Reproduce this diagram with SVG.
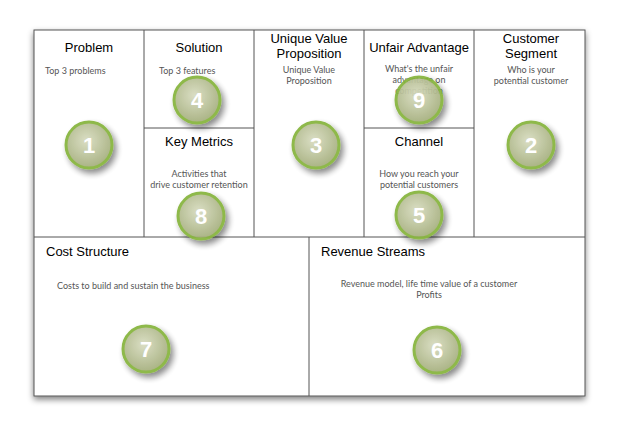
<svg xmlns="http://www.w3.org/2000/svg" width="618" height="435" viewBox="0 0 618 435">
<defs>
<radialGradient id="g" cx="0.45" cy="0.4" r="0.6"><stop offset="0" stop-color="#d8dcc0"/><stop offset="1" stop-color="#a4ae7c"/></radialGradient>
<filter id="sh" x="-30%" y="-30%" width="170%" height="170%"><feGaussianBlur in="SourceAlpha" stdDeviation="3"/><feOffset dx="3" dy="4"/><feComponentTransfer><feFuncA type="linear" slope="0.5"/></feComponentTransfer><feMerge><feMergeNode/><feMergeNode in="SourceGraphic"/></feMerge></filter>
<filter id="bs" x="-5%" y="-5%" width="110%" height="115%"><feGaussianBlur in="SourceAlpha" stdDeviation="3"/><feOffset dx="0" dy="3"/><feComponentTransfer><feFuncA type="linear" slope="0.5"/></feComponentTransfer><feMerge><feMergeNode/><feMergeNode in="SourceGraphic"/></feMerge></filter>
</defs>
<style>
.t{font-family:"Liberation Sans",Arial,sans-serif;font-size:13px;fill:#000;text-anchor:middle}
.tl{font-family:"Liberation Sans",Arial,sans-serif;font-size:13px;fill:#000}
.s{font-family:Lato,"Open Sans",sans-serif;font-size:9px;fill:#555;text-anchor:middle}
.sl{font-family:Lato,"Open Sans",sans-serif;font-size:9px;fill:#555}
.c{fill:url(#g);stroke:#86b43c;stroke-width:3;filter:url(#sh);opacity:0.93}
.n{font-family:"Liberation Sans",Arial,sans-serif;font-size:22px;font-weight:bold;fill:#fff;text-anchor:middle}
.ln{stroke:#555;stroke-width:1;fill:none}
</style>
<rect x="34" y="30" width="551" height="366" fill="#fff" stroke="#555" filter="url(#bs)"/>
<g id="connectors">
<path class="ln" d="M144,30V237M254,30V237M364,30V237M474,30V237M34,237H585M309,237V396M144,128H254M364,128H474"/>
</g>
<g id="problem"><text class="t" x="89" y="52">Problem</text><text class="sl" x="45" y="74">Top 3 problems</text><circle class="c" cx="89" cy="145" r="23"/><text class="n" x="89" y="153">1</text></g>
<g id="solution"><text class="t" x="199" y="52">Solution</text><text class="sl" x="159" y="74">Top 3 features</text><circle class="c" cx="197" cy="100" r="23"/><text class="n" x="197" y="108">4</text></g>
<g id="metrics"><text class="t" x="199" y="146">Key Metrics</text><text class="s" x="199" y="177">Activities that</text><text class="s" x="199" y="188">drive customer retention</text><circle class="c" cx="201" cy="216" r="23"/><text class="n" x="201" y="224">8</text></g>
<g id="uvp"><text class="t" x="309" y="43">Unique Value</text><text class="t" x="309" y="58">Proposition</text><text class="s" x="309" y="73">Unique Value</text><text class="s" x="309" y="84">Proposition</text><circle class="c" cx="316" cy="145" r="23"/><text class="n" x="316" y="153">3</text></g>
<g id="unfair"><text class="t" x="419" y="52">Unfair Advantage</text><text class="s" x="419" y="72">What's the unfair</text><text class="s" x="419" y="83">advantage on</text><text class="s" x="419" y="94">competition</text><circle class="c" cx="419" cy="100" r="23"/><text class="n" x="419" y="108">9</text></g>
<g id="channel"><text class="t" x="419" y="146">Channel</text><text class="s" x="419" y="177">How you reach your</text><text class="s" x="419" y="188">potential customers</text><circle class="c" cx="419" cy="215" r="23"/><text class="n" x="419" y="223">5</text></g>
<g id="segment"><text class="t" x="531" y="43">Customer</text><text class="t" x="531" y="58">Segment</text><text class="s" x="531" y="73">Who is your</text><text class="s" x="531" y="84">potential customer</text><circle class="c" cx="531" cy="145" r="23"/><text class="n" x="531" y="153">2</text></g>
<g id="cost"><text class="tl" x="46" y="256">Cost Structure</text><text class="sl" x="57" y="289">Costs to build and sustain the business</text><circle class="c" cx="146" cy="349" r="23"/><text class="n" x="146" y="357">7</text></g>
<g id="revenue"><text class="tl" x="321" y="256">Revenue Streams</text><text class="s" x="429" y="287">Revenue model, life time value of a customer</text><text class="s" x="429" y="298">Profits</text><circle class="c" cx="437" cy="350" r="23"/><text class="n" x="437" y="358">6</text></g>
</svg>
